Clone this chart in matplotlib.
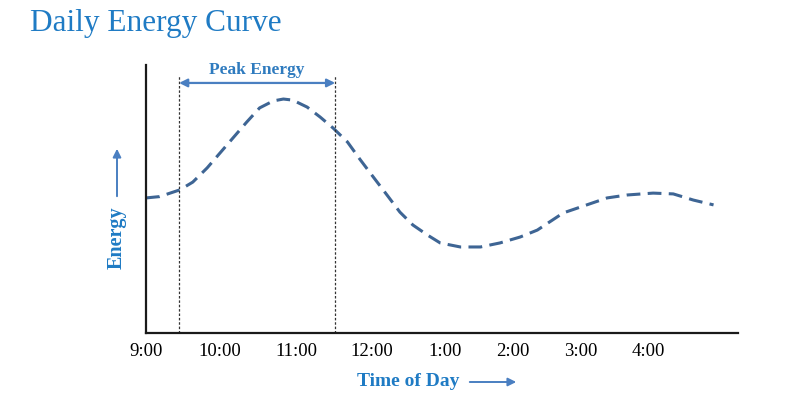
import matplotlib.pyplot as plt
from matplotlib.patches import FancyArrowPatch

# curve (hours after midnight, energy in arbitrary units 0-10)
hours = [9.0, 9.19, 9.47, 9.65, 9.85, 10.03, 10.21, 10.40, 10.58, 10.77,
         10.91, 11.04, 11.24, 11.42, 11.60, 11.80, 11.98, 12.16, 12.35, 12.53,
         12.71, 12.91, 13.09, 13.37, 13.65, 13.92, 14.20, 14.44, 14.80, 15.04,
         15.41, 15.69, 16.05, 16.33, 16.61, 16.89]
energy = [5.04, 5.09, 5.34, 5.63, 6.16, 6.72, 7.28, 7.87, 8.40, 8.66,
          8.73, 8.69, 8.43, 8.06, 7.65, 7.13, 6.46, 5.82, 5.15, 4.51,
          4.03, 3.66, 3.36, 3.21, 3.21, 3.36, 3.58, 3.84, 4.48, 4.70,
          5.04, 5.15, 5.22, 5.19, 4.96, 4.78]

# tick labels are not evenly spaced in the original
tick_pos = [9.0, 10.02, 11.09, 12.14, 13.16, 14.10, 15.05, 15.99]
tick_labels = ["9:00", "10:00", "11:00", "12:00", "1:00", "2:00", "3:00", "4:00"]

peak_start = 9.46
peak_end = 11.63

blue = "#1f7bc4"
arrow_blue = "#4a7fc1"
curve_color = "#3e6594"
serif = "Liberation Serif"

fig = plt.figure(figsize=(8, 4), dpi=100)
ax = fig.add_axes([0.1825, 0.1675, 0.74, 0.67])

ax.plot(hours, energy, color=curve_color, linewidth=2.2, dashes=(4.5, 2.4))

for xv in (peak_start, peak_end):
    ax.plot([xv, xv], [0, 9.63], color="#333333", linewidth=0.9, linestyle=(0, (2, 1.5)))

ax.annotate("", xy=(peak_start, 9.33), xytext=(peak_end, 9.33),
            arrowprops=dict(arrowstyle="<|-|>", color=arrow_blue, linewidth=1.6,
                            mutation_scale=12, shrinkA=0, shrinkB=0))
ax.text((peak_start + peak_end) / 2, 9.5, "Peak Energy", ha="center", va="bottom",
        fontsize=12.5, fontweight="bold", family=serif, color="#2f7bbf")

ax.set_xlim(9, 17.23)
ax.set_ylim(0, 10)
ax.set_xticks(tick_pos)
ax.set_xticklabels(tick_labels, family=serif, fontsize=13.5)
ax.set_yticks([])
ax.tick_params(axis="x", length=0, pad=7)

for side in ("top", "right"):
    ax.spines[side].set_visible(False)
for side in ("left", "bottom"):
    ax.spines[side].set_linewidth(1.6)
    ax.spines[side].set_color("#1a1a1a")

fig.text(30 / 800, 1 - 23 / 400, "Daily Energy Curve", ha="left", va="center",
         fontsize=22.5, family=serif, color=blue)

fig.text(408 / 800, 1 - 382 / 400, "Time of Day", ha="center", va="center",
         fontsize=14, fontweight="bold", family=serif, color=blue)
fig.patches.append(FancyArrowPatch(
    (467 / 800, 1 - 382 / 400), (519 / 800, 1 - 382 / 400), transform=fig.transFigure,
    arrowstyle="-|>", mutation_scale=12, color=arrow_blue, linewidth=1.4))

fig.text(117 / 800, 1 - 238 / 400, "Energy", ha="center", va="center", rotation=90,
         fontsize=14.5, fontweight="bold", family=serif, color=blue)
fig.patches.append(FancyArrowPatch(
    (117 / 800, 1 - 199 / 400), (117 / 800, 1 - 146 / 400), transform=fig.transFigure,
    arrowstyle="-|>", mutation_scale=12, color=arrow_blue, linewidth=1.4))

fig.savefig("out.png", dpi=100)
